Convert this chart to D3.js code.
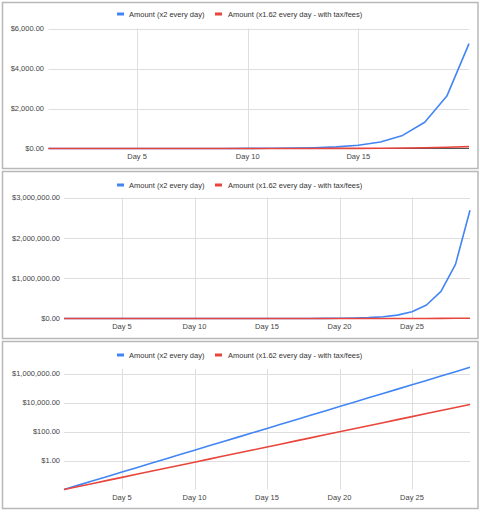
<!DOCTYPE html>
<html><head><meta charset="utf-8">
<script src="https://cdn.jsdelivr.net/npm/d3@7"></script>
<style>html,body{margin:0;padding:0;background:#fff;}svg{display:block;font-family:"Liberation Sans",Arial,sans-serif;}</style>
</head><body>
<svg id="c" width="480" height="512"></svg>
<script>
const days = d3.range(1, 30);
const seriesNames = ["Amount (x2 every day)", "Amount (x1.62 every day - with tax/fees)"];
const seriesColors = ["#4285F4", "#E8453C"];
const amountX2 = [0.01, 0.02, 0.04, 0.08, 0.16, 0.32, 0.64, 1.28, 2.56, 5.12, 10.24, 20.48, 40.96, 81.92, 163.84, 327.68, 655.36, 1310.72, 2621.44, 5242.88, 10485.76, 20971.52, 41943.04, 83886.08, 167772.16, 335544.32, 671088.64, 1342177.28, 2684354.56];
const amountX162 = [0.01, 0.0162, 0.0262, 0.0425, 0.0689, 0.1116, 0.1808, 0.2928, 0.4744, 0.7685, 1.2449, 2.0168, 3.2672, 5.2929, 8.5745, 13.891, 22.503, 36.455, 59.057, 95.672, 154.99, 251.08, 406.75, 658.94, 1067.48, 1729.32, 2801.50, 4538.43, 7352.25];
const xTicks1 = [5, 10, 15];
const xTicks2 = [5, 10, 15, 20, 25];
const yTicks1 = [0, 2000, 4000, 6000];
const yTicks2 = [0, 1000000, 2000000, 3000000];
const yTicks3 = [1, 100, 10000, 1000000];

const svg = d3.select("#c");
const fmt = d3.format("$,.2f");

const panels = [
  {box:[2.5,2.5,475.5,166], nDays:20, x:[48.5,469], y:[148.5,28.5], type:"lin", dom:[0,6000], yt:yTicks1, xt:xTicks1, leg:14, labX:44},
  {box:[2.5,171.5,475.5,167], nDays:29, x:[64,470], y:[318.5,197.5], type:"lin", dom:[0,3000000], yt:yTicks2, xt:xTicks2, leg:185, labX:60},
  {box:[2.5,341.5,475.5,167], nDays:29, x:[64,470], y:[489.5,367.3], type:"log", dom:[0.01,2684354.56], yt:yTicks3, xt:xTicks2, leg:355, labX:60, gtop:369}
];

panels.forEach(p => {
  const g = svg.append("g");
  g.append("rect").attr("x",p.box[0]).attr("y",p.box[1]).attr("width",p.box[2]).attr("height",p.box[3])
    .attr("fill","#fff").attr("stroke","#b8b8b8").attr("stroke-width",1.5);
  const x = d3.scaleLinear().domain([1,p.nDays]).range(p.x);
  const y = (p.type==="log" ? d3.scaleLog() : d3.scaleLinear()).domain(p.dom).range(p.y);
  const top = p.gtop || p.y[1];
  g.selectAll(".hg").data(p.yt.filter(v => p.type==="log" || v!==0)).enter().append("line")
    .attr("x1",p.x[0]).attr("x2",p.x[1]).attr("y1",d=>Math.round(y(d))+0.5).attr("y2",d=>Math.round(y(d))+0.5)
    .attr("stroke","#dedede").attr("stroke-width",1);
  g.selectAll(".vg").data(p.xt).enter().append("line")
    .attr("x1",d=>Math.round(x(d))+0.5).attr("x2",d=>Math.round(x(d))+0.5).attr("y1",top).attr("y2",p.y[0])
    .attr("stroke","#dedede").attr("stroke-width",1);
  g.selectAll(".yl").data(p.yt).enter().append("text")
    .attr("x",p.labX).attr("y",d=>y(d)+2.7).attr("text-anchor","end")
    .attr("font-size",7.5).attr("fill","#444").text(d=>fmt(d));
  g.selectAll(".xl").data(p.xt).enter().append("text")
    .attr("x",d=>x(d)).attr("y",p.y[0]+10.5).attr("text-anchor","middle")
    .attr("font-size",7.5).attr("fill","#444").text(d=>"Day "+d);
  if (p.type==="lin") {
    g.append("line").attr("x1",p.x[0]).attr("x2",p.x[1]).attr("y1",y(0)).attr("y2",y(0))
      .attr("stroke","#555").attr("stroke-width",1);
  }
  const line = d3.line().x((d,i)=>x(days[i])).y(d=>y(d));
  [amountX2, amountX162].forEach((s,k) => {
    g.append("path").datum(s.slice(0,p.nDays)).attr("d",line).attr("fill","none")
      .attr("stroke",seriesColors[k]).attr("stroke-width",1.6).attr("stroke-linejoin","round");
  });
  const lx = [117, 215], tx = [129, 228];
  seriesNames.forEach((n,k) => {
    g.append("rect").attr("x",lx[k]).attr("y",p.leg-1.5).attr("width",7).attr("height",3).attr("fill",seriesColors[k]);
    g.append("text").attr("x",tx[k]).attr("y",p.leg+2.7).attr("font-size",7.5).attr("fill","#333").text(n);
  });
});
</script>
</body></html>
